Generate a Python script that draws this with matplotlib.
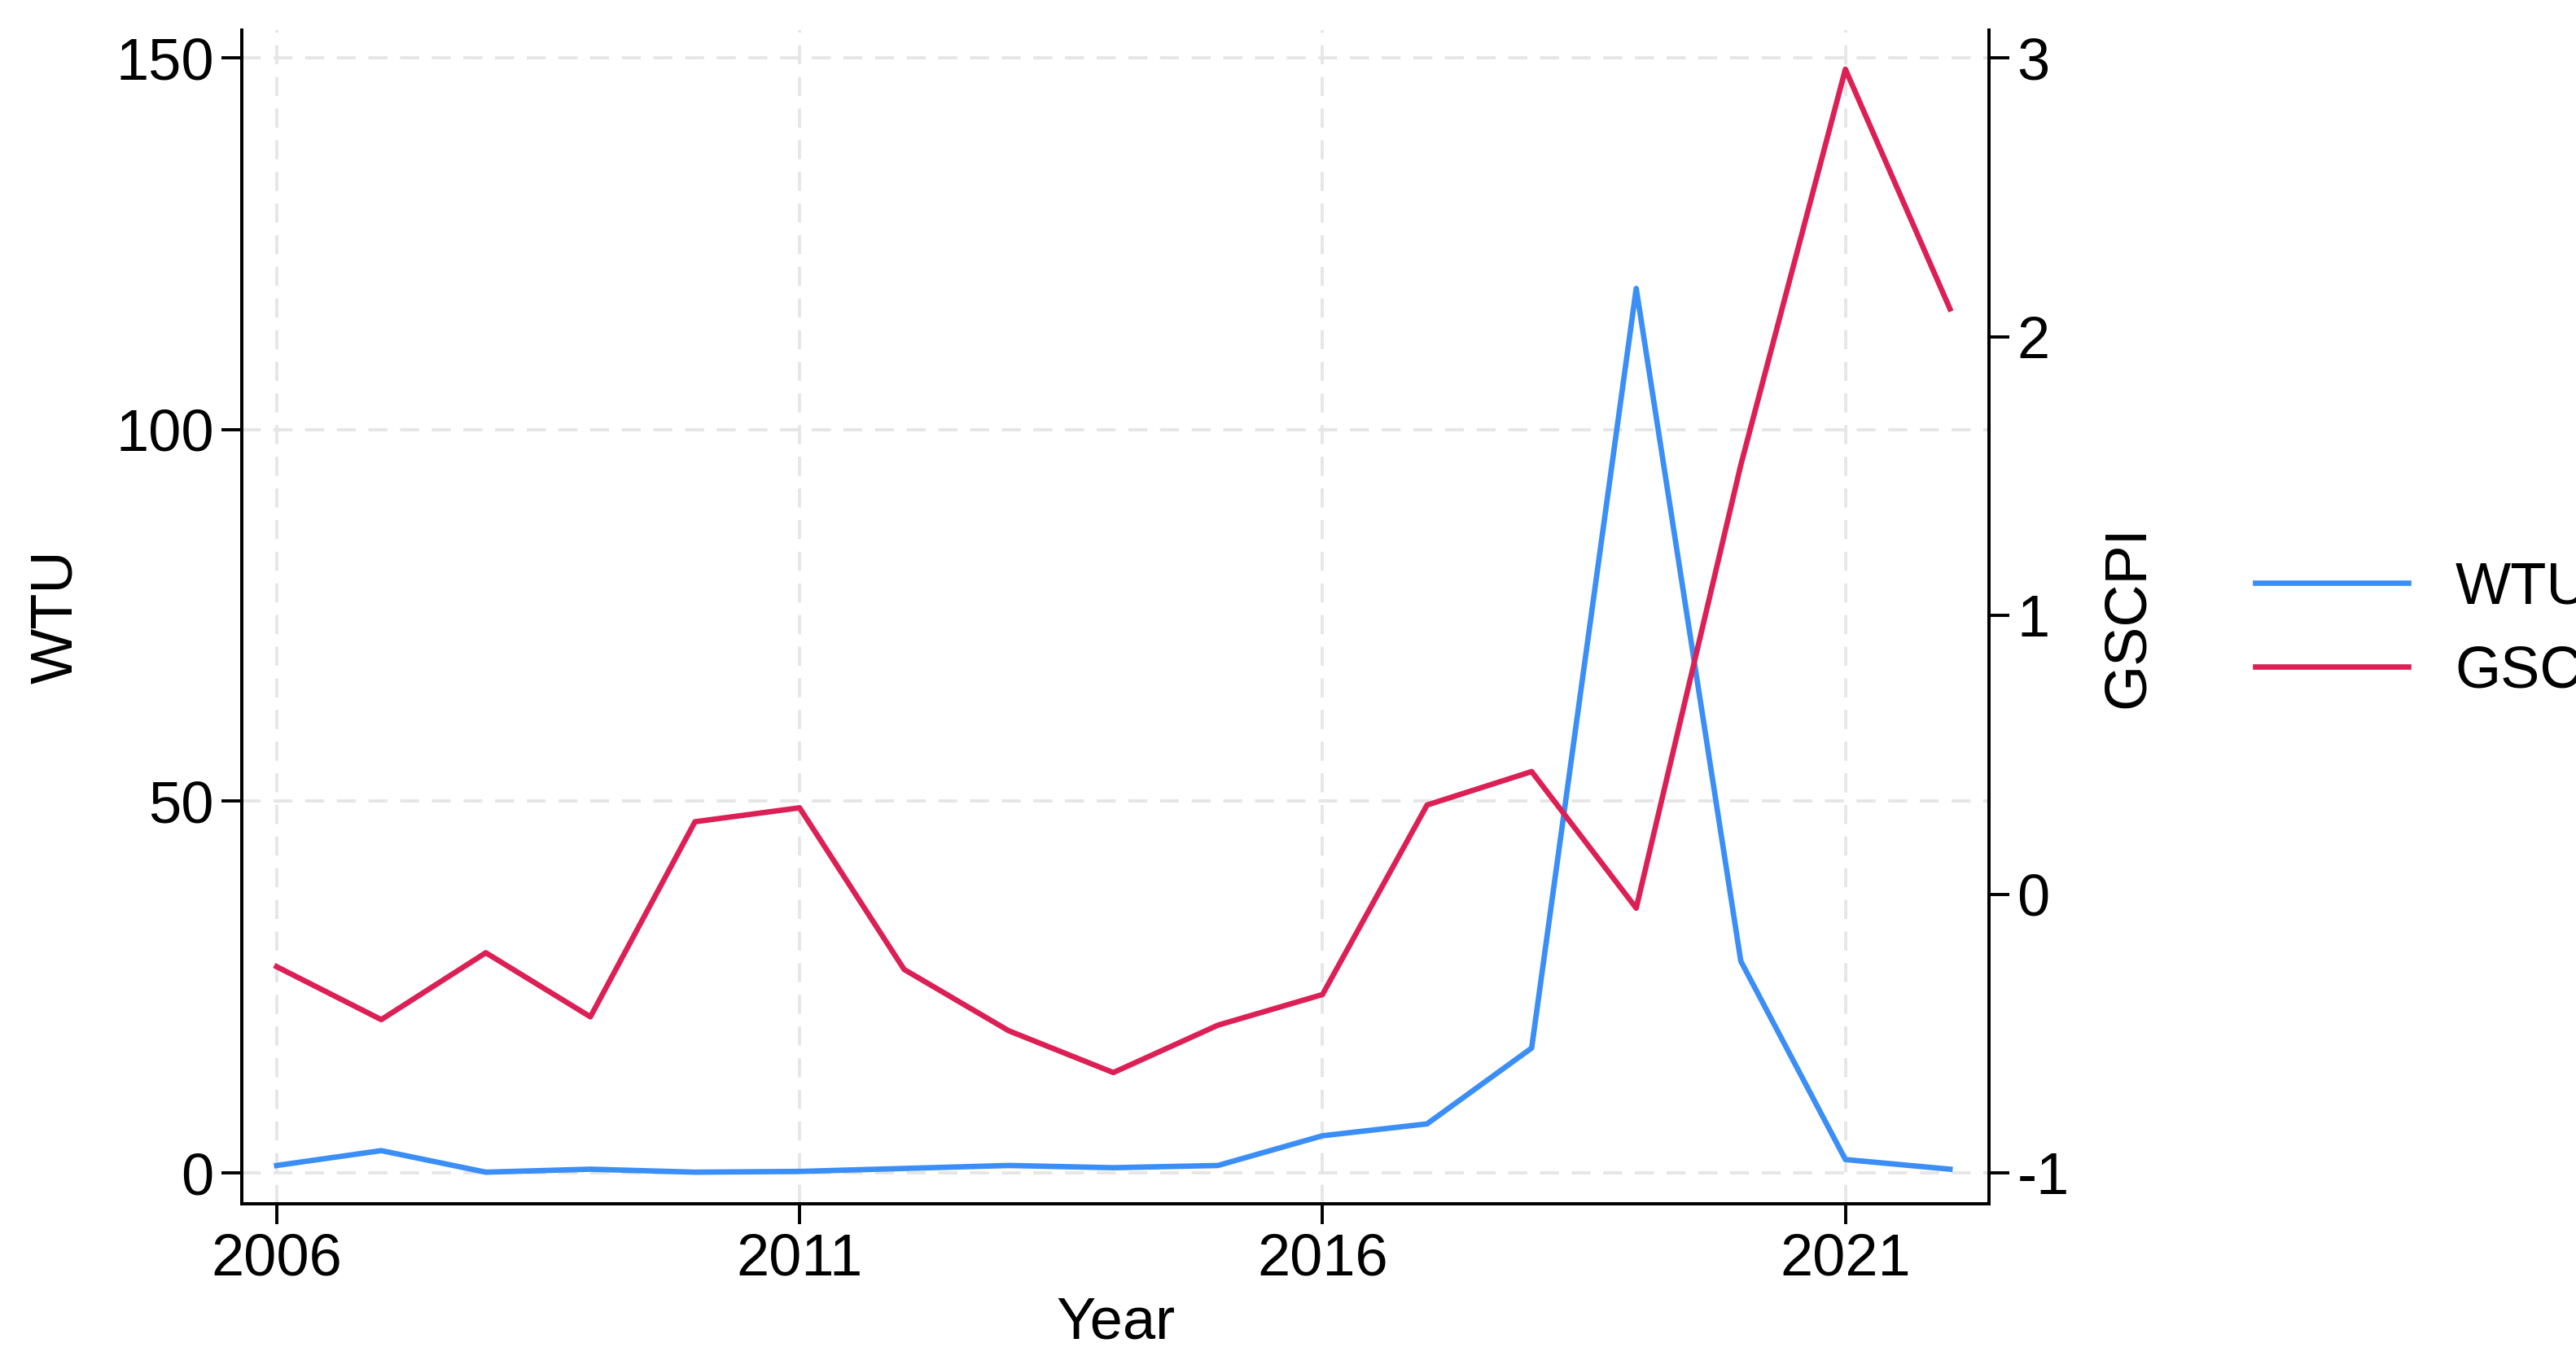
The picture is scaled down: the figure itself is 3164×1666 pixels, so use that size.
import matplotlib
matplotlib.use('Agg')
import matplotlib.pyplot as plt

years = list(range(2006, 2023))
wtu = [1.0, 3.0, 0.1, 0.5, 0.1, 0.2, 0.6, 1.0, 0.7, 1.0, 5.0, 6.6, 16.8, 119.0, 28.5, 1.8, 0.5]
gscpi = [-0.26, -0.45, -0.21, -0.44, 0.26, 0.31, -0.27, -0.49, -0.64, -0.47,
         -0.36, 0.32, 0.44, -0.05, 1.54, 2.96, 2.10]

plt.rcParams['font.family'] = ['Liberation Sans', 'DejaVu Sans']
plt.rcParams['axes.unicode_minus'] = False
fig = plt.figure(figsize=(15.82, 8.33), dpi=200)
ax = fig.add_axes([0.094, 0.112, 0.678, 0.866])
ax2 = ax.twinx()

l1, = ax.plot(years, wtu, color='#3a8ef6', lw=2.4, label='WTU')
l2, = ax2.plot(years, gscpi, color='#dc1f55', lw=2.4, label='GSCPI')

ax.set_xlim(2005.67, 2022.37)
ax.set_ylim(-4.2, 153.8)
ax2.set_ylim(-1 - 4.2 / 37.5, 3 + 3.8 / 37.5)
ax.set_xticks([2006, 2011, 2016, 2021])
ax.set_yticks([0, 50, 100, 150])
ax2.set_yticks([-1, 0, 1, 2, 3])
ax.grid(True, ls=(0, (6, 4)), color='#e6e6e6', lw=1.4)
for a in (ax, ax2):
    a.spines['top'].set_visible(False)
    a.tick_params(labelsize=26, length=9, width=1.4)
    for s in a.spines.values():
        s.set_linewidth(1.4)
ax.set_xlabel('Year', fontsize=26, labelpad=4)
ax.set_ylabel('WTU', fontsize=26, labelpad=14)
ax2.set_ylabel('GSCPI', fontsize=26, labelpad=14)

fig.legend(handles=[l1, l2], loc='center left', bbox_to_anchor=(0.855, 0.535),
           frameon=False, fontsize=26, handlelength=2.6)
fig.savefig('out.png', dpi=200)
